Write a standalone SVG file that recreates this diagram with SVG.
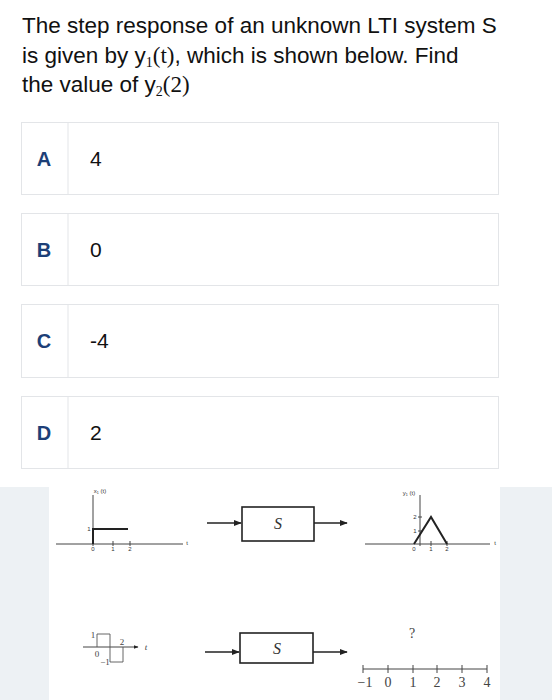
<svg xmlns="http://www.w3.org/2000/svg" width="552" height="700" viewBox="0 0 552 700">
<defs>
<style>
.q{font-family:"Liberation Sans",Arial,sans-serif;font-size:22.5px;fill:#111}
.ser{font-family:"Liberation Serif","Times New Roman",serif;font-size:23px}
.sub{font-family:"Liberation Serif","Times New Roman",serif;font-size:14px}
.card{fill:#fff;stroke:#e3e5e8;stroke-width:1}
.div{stroke:#e3e5e8;stroke-width:1}
.let{font-family:"Liberation Sans",Arial,sans-serif;font-size:20px;font-weight:bold;fill:#1d3f77;text-anchor:middle}
.val{font-family:"Liberation Sans",Arial,sans-serif;font-size:21px;fill:#111}
.ax{stroke:#444;stroke-width:1;fill:none}
.sig{stroke:#222;stroke-width:2;fill:none}
.sm{font-family:"Liberation Sans",Arial,sans-serif;font-size:6px;fill:#333;text-anchor:middle}
.blk{stroke:#222;stroke-width:1.6;fill:#fff}
.ln{stroke:#222;stroke-width:1.6;fill:none}
.sS{font-family:"Liberation Serif","Times New Roman",serif;font-style:italic;font-size:16px;fill:#333;text-anchor:middle}
.nl{font-family:"Liberation Serif","Times New Roman",serif;font-size:14px;fill:#444;text-anchor:middle}
.pl{font-family:"Liberation Serif","Times New Roman",serif;font-size:9px;fill:#444;text-anchor:middle}
</style>
<marker id="ah" viewBox="0 0 10 10" refX="9" refY="5" markerWidth="5" markerHeight="5" orient="auto"><path d="M0,1 L10,5 L0,9 z" fill="#222"/></marker>
</defs>
<rect width="552" height="700" fill="#fff"/>
<g id="question">
<text class="q" x="22" y="33">The step response of an unknown LTI system S</text>
<text class="q" x="22" y="63">is given by y<tspan class="sub" dy="4">1</tspan><tspan class="ser" dy="-4">(t)</tspan>, which is shown below. Find</text>
<text class="q" x="22" y="92">the value of y<tspan class="sub" dy="4">2</tspan><tspan class="ser" dy="-4">(2)</tspan></text>
</g>
<g id="optA"><rect class="card" x="21.5" y="122.5" width="477" height="72"/><line class="div" x1="68" y1="122.5" x2="68" y2="194.5"/><text class="let" x="44" y="166">A</text><text class="val" x="90" y="166">4</text></g>
<g id="optB"><rect class="card" x="21.5" y="213.5" width="477" height="72"/><line class="div" x1="68" y1="213.5" x2="68" y2="285.5"/><text class="let" x="44" y="257">B</text><text class="val" x="90" y="257">0</text></g>
<g id="optC"><rect class="card" x="21.5" y="304.5" width="477" height="73"/><line class="div" x1="68" y1="304.5" x2="68" y2="377.5"/><text class="let" x="44" y="348">C</text><text class="val" x="90" y="348">-4</text></g>
<g id="optD"><rect class="card" x="21.5" y="396.5" width="477" height="72"/><line class="div" x1="68" y1="396.5" x2="68" y2="468.5"/><text class="let" x="44" y="440">D</text><text class="val" x="90" y="440">2</text></g>
<g id="panel">
<rect x="0" y="487" width="49" height="213" fill="#edf1f4"/>
<rect x="500" y="487" width="52" height="213" fill="#edf1f4"/>
</g>
<g id="plot-x1">
<line class="ax" x1="56" y1="544" x2="183" y2="544"/>
<line class="ax" x1="93" y1="495" x2="93" y2="546"/>
<line class="ax" x1="113" y1="541" x2="113" y2="546"/>
<line class="ax" x1="130" y1="541" x2="130" y2="546"/>
<path class="sig" d="M93,544 V529 H128"/>
<text class="sm" x="100" y="493">x₁ (t)</text>
<text class="sm" x="89" y="531">1</text>
<text class="sm" x="93" y="551">0</text>
<text class="sm" x="113" y="551">1</text>
<text class="sm" x="130" y="551">2</text>
<text class="sm" x="187" y="545">t</text>
</g>
<g id="plot-y1">
<line class="ax" x1="365" y1="544" x2="490" y2="544"/>
<line class="ax" x1="420" y1="495" x2="420" y2="546"/>
<line class="ax" x1="418" y1="517" x2="422" y2="517"/>
<line class="ax" x1="418" y1="531" x2="422" y2="531"/>
<line class="ax" x1="431" y1="541" x2="431" y2="546"/>
<line class="ax" x1="447" y1="541" x2="447" y2="546"/>
<path class="sig" d="M414,544 L431,517 L447,544"/>
<text class="sm" x="409" y="495">y₁ (t)</text>
<text class="sm" x="415" y="519">2</text>
<text class="sm" x="415" y="533">1</text>
<text class="sm" x="414" y="551">0</text>
<text class="sm" x="431" y="551">1</text>
<text class="sm" x="447" y="551">2</text>
<text class="sm" x="495" y="545">t</text>
</g>
<g id="block1"><rect class="blk" x="242" y="507" width="72" height="34"/><text class="sS" x="278" y="529">S</text></g>
<g id="plot-x2">
<line class="ax" x1="83" y1="647" x2="138" y2="647" marker-end="url(#ah)"/>
<path d="M97,647 V634 H110 V662 H123 V647" fill="none" stroke="#555" stroke-width="0.9"/>
<text class="pl" x="93" y="638">1</text>
<text class="pl" x="97" y="657">0</text>
<text class="pl" x="122" y="645">2</text>
<text class="pl" x="105" y="665">−1</text>
<text class="pl" x="146" y="650" font-style="italic">t</text>
</g>
<g id="block2"><rect class="blk" x="240" y="633" width="73" height="30"/><text class="sS" x="277" y="654">S</text></g>
<g id="output2">
<text class="nl" x="412" y="638">?</text>
<line class="ax" x1="363" y1="669" x2="487" y2="669"/>
<g class="ax">
<line x1="363" y1="665" x2="363" y2="673"/><line x1="388" y1="665" x2="388" y2="673"/><line x1="413" y1="665" x2="413" y2="673"/><line x1="437" y1="665" x2="437" y2="673"/><line x1="462" y1="665" x2="462" y2="673"/><line x1="487" y1="665" x2="487" y2="673"/>
</g>
<text class="nl" x="365" y="687">−1</text>
<text class="nl" x="388" y="687">0</text>
<text class="nl" x="413" y="687">1</text>
<text class="nl" x="437" y="687">2</text>
<text class="nl" x="462" y="687">3</text>
<text class="nl" x="487" y="687">4</text>
</g>
<g id="connectors">
<line class="ln" x1="207" y1="523" x2="241" y2="523" marker-end="url(#ah)"/>
<line class="ln" x1="314" y1="523" x2="347" y2="523" marker-end="url(#ah)"/>
<line class="ln" x1="205" y1="652" x2="239" y2="652" marker-end="url(#ah)"/>
<line class="ln" x1="313" y1="652" x2="347" y2="652" marker-end="url(#ah)"/>
</g>
</svg>
